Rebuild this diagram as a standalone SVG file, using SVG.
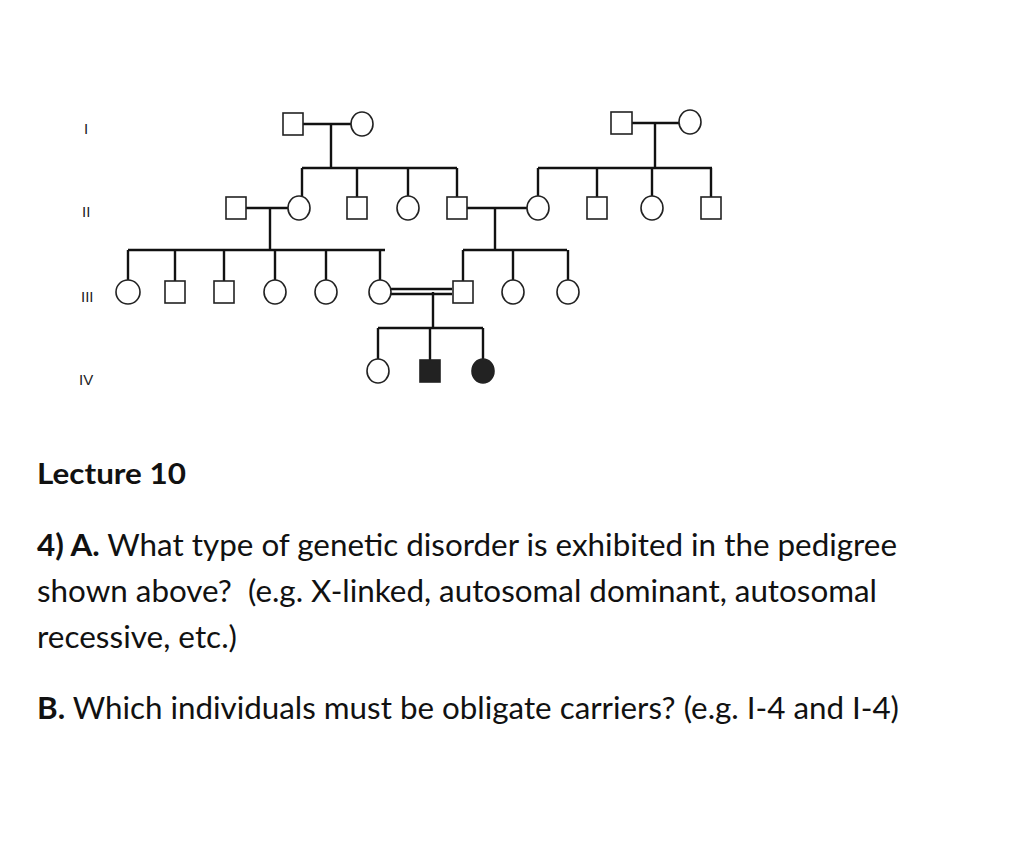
<svg xmlns="http://www.w3.org/2000/svg" width="1024" height="842" viewBox="0 0 1024 842">
<style>
.s{fill:#fff;stroke:#222;stroke-width:1.6}
.f{fill:#222;stroke:#222;stroke-width:1.6}
.l{stroke:#111;stroke-width:2.4;fill:none}
.g{font-family:"Liberation Sans",Arial,sans-serif;font-size:15px;fill:#222}
.t{font-family:Lato,"Liberation Sans",sans-serif;font-size:30px;fill:#111}
</style>
<rect width="1024" height="842" fill="#fff"/>
<g id="connectors" class="l">
<path d="M303 124H351M331 124V168M302 168H457M302 168V197M357 168V197M408 168V196M457 168V197"/>
<path d="M632 123H679M655 123V168M538 168H712M538 168V196M597 168V197M652 168V196M711 168V197"/>
<path d="M246 208H288M270 208V250M128 250H385M128 250V280M175 250V281M224 250V281M275 250V280M326 250V280M380 250V280"/>
<path d="M467 208H527M495 208V250M463 250H567M463 250V281M513 250V280M568 250V280"/>
<path d="M391 289H452M391 294H452M433 292V328M378 328H483M378 328V359M430 328V360M483 328V359" />
</g>
<g id="gen1">
<rect class="s" x="283" y="113" width="20" height="22"/><ellipse class="s" cx="362" cy="124" rx="11" ry="12"/>
<rect class="s" x="611" y="112" width="21" height="22"/><ellipse class="s" cx="690" cy="122" rx="11" ry="12"/>
</g>
<g id="gen2">
<rect class="s" x="226" y="197" width="20" height="22"/><ellipse class="s" cx="299" cy="208" rx="11" ry="12"/>
<rect class="s" x="347" y="197" width="20" height="22"/><ellipse class="s" cx="408" cy="208" rx="11" ry="12"/>
<rect class="s" x="447" y="197" width="20" height="22"/><ellipse class="s" cx="538" cy="208" rx="11" ry="12"/>
<rect class="s" x="587" y="197" width="20" height="22"/><ellipse class="s" cx="652" cy="208" rx="11" ry="12"/>
<rect class="s" x="701" y="197" width="20" height="22"/>
</g>
<g id="gen3">
<ellipse class="s" cx="128" cy="292" rx="12" ry="12"/>
<rect class="s" x="165" y="281" width="20" height="22"/><rect class="s" x="214" y="281" width="20" height="22"/>
<ellipse class="s" cx="275" cy="292" rx="11" ry="12"/><ellipse class="s" cx="326" cy="292" rx="11" ry="12"/>
<ellipse class="s" cx="380" cy="292" rx="11" ry="12"/>
<rect class="s" x="453" y="281" width="20" height="22"/>
<ellipse class="s" cx="513" cy="292" rx="11" ry="12"/><ellipse class="s" cx="568" cy="292" rx="11" ry="12"/>
</g>
<g id="gen4">
<ellipse class="s" cx="378" cy="371" rx="11" ry="12"/>
<rect class="f" x="420" y="360" width="20" height="22"/>
<ellipse class="f" cx="483" cy="371" rx="11" ry="12"/>
</g>
<g id="labels" class="g">
<text x="84" y="134">I</text><text x="82" y="217">II</text><text x="81" y="302">III</text><text x="79" y="385">IV</text>
</g>
<g id="text" class="t">
<text x="37" y="484" font-weight="bold" font-size="28" textLength="149" lengthAdjust="spacingAndGlyphs">Lecture 10</text>
<text x="37" y="556" textLength="860" lengthAdjust="spacingAndGlyphs"><tspan font-weight="bold">4) A.</tspan> What type of genetic disorder is exhibited in the pedigree</text>
<text x="37" y="602" xml:space="preserve" textLength="840" lengthAdjust="spacingAndGlyphs">shown above?  (e.g. X-linked, autosomal dominant, autosomal</text>
<text x="37" y="648" textLength="200" lengthAdjust="spacingAndGlyphs">recessive, etc.)</text>
<text x="37" y="719" textLength="862" lengthAdjust="spacingAndGlyphs"><tspan font-weight="bold">B.</tspan> Which individuals must be obligate carriers? (e.g. I-4 and I-4)</text>
</g>
</svg>
